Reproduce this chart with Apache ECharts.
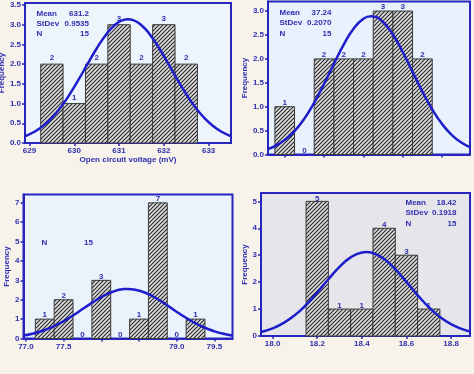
<!DOCTYPE html>
<html><head><meta charset="utf-8">
<script src="https://cdn.jsdelivr.net/npm/echarts@6/dist/echarts.min.js"></script>
<style>html,body{margin:0;padding:0;background:#f7f2ea}#c{width:474px;height:374px}</style>
</head><body><div id="c"></div>
<script>
// ---------- data ----------
const edges1 = [629.25, 629.75, 630.25, 630.75, 631.25, 631.75, 632.25, 632.75];
const counts1 = [2, 1, 2, 3, 2, 3, 2];
const curveX1 = [628.9, 629.1, 629.3, 629.5, 629.7, 629.9, 630.1, 630.3, 630.5, 630.7, 630.9, 631.1, 631.2, 631.3, 631.5, 631.7, 631.9, 632.1, 632.3, 632.5, 632.7, 632.9, 633.1, 633.3, 633.5];
const curveY1 = [0.171, 0.278, 0.431, 0.640, 0.911, 1.239, 1.612, 2.010, 2.397, 2.735, 2.987, 3.121, 3.138, 3.121, 2.987, 2.735, 2.397, 2.010, 1.612, 1.239, 0.911, 0.640, 0.431, 0.278, 0.171];
const xTicks1 = [629, 630, 631, 632, 633];
const xLabels1 = ['629', '630', '631', '632', '633'];
const yTicks1 = [0, 0.5, 1, 1.5, 2, 2.5, 3, 3.5];
const yLabels1 = ['0.0', '0.5', '1.0', '1.5', '2.0', '2.5', '3.0', '3.5'];
const stats1 = ['631.2', '0.9535', '15'];

const edges2 = [36.75, 36.85, 36.95, 37.05, 37.15, 37.25, 37.35, 37.45, 37.55];
const counts2 = [1, 0, 2, 2, 2, 3, 3, 2];
const curveX2 = [36.715, 36.75, 36.8, 36.85, 36.9, 36.95, 37.0, 37.05, 37.1, 37.15, 37.2, 37.24, 37.25, 37.3, 37.35, 37.4, 37.45, 37.5, 37.55, 37.6, 37.65, 37.7, 37.742];
const curveY2 = [0.116, 0.176, 0.302, 0.490, 0.750, 1.084, 1.476, 1.897, 2.300, 2.630, 2.838, 2.891, 2.888, 2.772, 2.511, 2.144, 1.728, 1.314, 0.942, 0.637, 0.406, 0.245, 0.153];
const xTicks2 = [36.8, 37.0, 37.2, 37.4, 37.6];
const xLabels2 = ['', '', '', '', ''];
const yTicks2 = [0, 0.5, 1, 1.5, 2, 2.5, 3];
const yLabels2 = ['0.0', '0.5', '1.0', '1.5', '2.0', '2.5', '3.0'];
const stats2 = ['37.24', '0.2070', '15'];

const edges3 = [77.125, 77.375, 77.625, 77.875, 78.125, 78.375, 78.625, 78.875, 79.125, 79.375];
const counts3 = [1, 2, 0, 3, 0, 1, 7, 0, 1];
const curveX3 = [76.968, 77.1, 77.25, 77.4, 77.55, 77.7, 77.85, 78.0, 78.15, 78.3, 78.35, 78.45, 78.6, 78.75, 78.9, 79.05, 79.2, 79.35, 79.5, 79.65, 79.74];
const curveY3 = [0.157, 0.261, 0.436, 0.684, 1.004, 1.380, 1.775, 2.138, 2.412, 2.548, 2.557, 2.520, 2.334, 2.024, 1.643, 1.250, 0.890, 0.593, 0.370, 0.217, 0.152];
const xTicks3 = [77.0, 77.5, 78.0, 78.5, 79.0, 79.5];
const xLabels3 = ['77.0', '77.5', '', '', '79.0', '79.5'];
const yTicks3 = [0, 1, 2, 3, 4, 5, 6, 7];
const yLabels3 = ['0', '1', '2', '3', '4', '5', '6', '7'];
const stats3 = ['15'];

const edges4 = [18.15, 18.25, 18.35, 18.45, 18.55, 18.65, 18.75];
const counts4 = [5, 1, 1, 4, 3, 1];
const curveX4 = [17.948, 18.0, 18.05, 18.1, 18.15, 18.2, 18.25, 18.3, 18.35, 18.4, 18.42, 18.45, 18.5, 18.55, 18.6, 18.65, 18.7, 18.75, 18.8, 18.85, 18.885];
const curveY4 = [0.151, 0.284, 0.485, 0.776, 1.158, 1.616, 2.107, 2.565, 2.919, 3.103, 3.12, 3.082, 2.860, 2.479, 2.009, 1.520, 1.075, 0.710, 0.438, 0.253, 0.165];
const xTicks4 = [18.0, 18.2, 18.4, 18.6, 18.8];
const xLabels4 = ['18.0', '18.2', '18.4', '18.6', '18.8'];
const yTicks4 = [0, 1, 2, 3, 4, 5];
const yLabels4 = ['0', '1', '2', '3', '4', '5'];
const stats4 = ['18.42', '0.1918', '15'];

const statNames = ['Mean', 'StDev', 'N'];

// ---------- style ----------
const BLUE = '#2626bf';
const TXT = '#3030b0';
const CURVE = '#1d1dcc';
const FONT = 'Liberation Sans, Arial, sans-serif';

function hatch() {
  const c = document.createElement('canvas');
  c.width = 4; c.height = 4;
  const g = c.getContext('2d');
  g.fillStyle = '#dedede'; g.fillRect(0, 0, 4, 4);
  g.strokeStyle = '#262626'; g.lineWidth = 1.1;
  g.beginPath();
  g.moveTo(0, 4); g.lineTo(4, 0);
  g.moveTo(-1, 1); g.lineTo(1, -1);
  g.moveTo(3, 5); g.lineTo(5, 3);
  g.stroke();
  return c;
}
const pattern = { image: hatch(), repeat: 'repeat' };

function lab(ticks, labels) {
  return v => { const i = ticks.findIndex(t => Math.abs(t - v) < 1e-6); return i >= 0 ? labels[i] : ''; };
}
function xAx(gi, min, max, ticks, labels, name) {
  return {
    type: 'value', gridIndex: gi, min: min, max: max,
    axisLine: { show: true, onZero: false, lineStyle: { color: BLUE, width: 2 } },
    axisTick: { show: true, inside: false, length: 3, customValues: ticks, lineStyle: { color: BLUE, width: 1.5 } },
    axisLabel: { customValues: ticks, formatter: lab(ticks, labels), color: TXT, fontWeight: 'bold', fontSize: 8, fontFamily: FONT, margin: 4 },
    splitLine: { show: false },
    name: name || '', nameLocation: 'middle', nameGap: 12,
    nameTextStyle: { color: TXT, fontWeight: 'bold', fontSize: 8, fontFamily: FONT }
  };
}
function yAx(gi, max, ticks, labels, gap) {
  return {
    type: 'value', gridIndex: gi, min: 0, max: max,
    axisLine: { show: true, lineStyle: { color: BLUE, width: 2 } },
    axisTick: { show: true, inside: false, length: 3, customValues: ticks, lineStyle: { color: BLUE, width: 1.5 } },
    axisLabel: { customValues: ticks, formatter: lab(ticks, labels), color: TXT, fontWeight: 'bold', fontSize: 8, fontFamily: FONT, margin: 4 },
    splitLine: { show: false },
    name: 'Frequency', nameLocation: 'middle', nameGap: gap, nameRotate: 90,
    nameTextStyle: { color: TXT, fontWeight: 'bold', fontSize: 8, fontFamily: FONT }
  };
}
function binData(edges, counts) {
  return counts.map((c, i) => [edges[i], edges[i + 1], c]);
}
function histSeries(gi, edges, counts, dist) {
  return {
    type: 'custom', xAxisIndex: gi, yAxisIndex: gi, z: 3,
    data: binData(edges, counts),
    encode: { x: [0, 1], y: 2 },
    renderItem: function (params, api) {
      const c = api.value(2);
      const p0 = api.coord([api.value(0), c]);
      const p1 = api.coord([api.value(1), 0]);
      const children = [];
      if (c > 0) {
        children.push({ type: 'rect', shape: { x: p0[0], y: p0[1], width: p1[0] - p0[0], height: p1[1] - p0[1] },
          style: { fill: pattern, stroke: '#3a3a3a', lineWidth: 1 } });
      }
      children.push({ type: 'text', z2: 10, style: { text: String(c), x: (p0[0] + p1[0]) / 2, y: p0[1] - dist,
        align: 'center', verticalAlign: 'bottom', fill: TXT, font: 'bold 8px ' + FONT } });
      return { type: 'group', children: children };
    }
  };
}
function curveSeries(gi, xs, ys) {
  return {
    type: 'line', xAxisIndex: gi, yAxisIndex: gi, z: 5, smooth: true, showSymbol: false, symbol: 'none',
    data: xs.map((x, i) => [x, ys[i]]),
    lineStyle: { color: CURVE, width: 2.5 }, clip: true, silent: true
  };
}
function statText(x0, x1, y0, dy, names, vals) {
  const out = [];
  names.forEach((n, i) => {
    out.push({ type: 'text', x: x0, y: y0 + i * dy, style: { text: n, fill: TXT, font: 'bold 8px ' + FONT, align: 'left', verticalAlign: 'middle' } });
    out.push({ type: 'text', x: x1, y: y0 + i * dy, style: { text: vals[i], fill: TXT, font: 'bold 8px ' + FONT, align: 'right', verticalAlign: 'middle' } });
  });
  return out;
}

const gridBase = { show: true, borderColor: BLUE, borderWidth: 2, containLabel: false, outerBoundsMode: 'none' };
const chart = echarts.init(document.getElementById('c'), null, { renderer: 'canvas' });
chart.setOption({
  backgroundColor: '#f7f2ea',
  animation: false,
  grid: [
    Object.assign({ left: 25, top: 3, width: 206, height: 140, backgroundColor: '#eef4fc' }, gridBase),
    Object.assign({ left: 268, top: 1.5, width: 202, height: 153, backgroundColor: '#e9f1fc' }, gridBase),
    Object.assign({ left: 23.5, top: 194.5, width: 209, height: 144, backgroundColor: '#eaf2fc' }, gridBase),
    Object.assign({ left: 261, top: 193, width: 209, height: 143, backgroundColor: '#e5e5ea' }, gridBase)
  ],
  xAxis: [
    xAx(0, 628.9, 633.5, xTicks1, xLabels1, 'Open circuit voltage (mV)'),
    xAx(1, 36.715, 37.742, xTicks2, xLabels2),
    xAx(2, 76.968, 79.74, xTicks3, xLabels3),
    xAx(3, 17.948, 18.885, xTicks4, xLabels4)
  ],
  yAxis: [
    yAx(0, 3.55, yTicks1, yLabels1, 16),
    yAx(1, 3.2, yTicks2, yLabels2, 15),
    yAx(2, 7.43, yTicks3, yLabels3, 9),
    yAx(3, 5.31, yTicks4, yLabels4, 10)
  ],
  series: [
    histSeries(0, edges1, counts1, 2),
    curveSeries(0, curveX1, curveY1),
    histSeries(1, edges2, counts2, 0),
    curveSeries(1, curveX2, curveY2),
    histSeries(2, edges3, counts3, 0),
    curveSeries(2, curveX3, curveY3),
    histSeries(3, edges4, counts4, -1),
    curveSeries(3, curveX4, curveY4)
  ],
  graphic: [].concat(
    statText(36.5, 89, 13.5, 10.2, statNames, stats1),
    statText(279.5, 331.5, 13, 10.2, statNames, stats2),
    statText(41.5, 93, 243, 10, ['N'], stats3),
    statText(405.5, 456.5, 202.5, 10.4, statNames, stats4)
  )
});
</script></body></html>
